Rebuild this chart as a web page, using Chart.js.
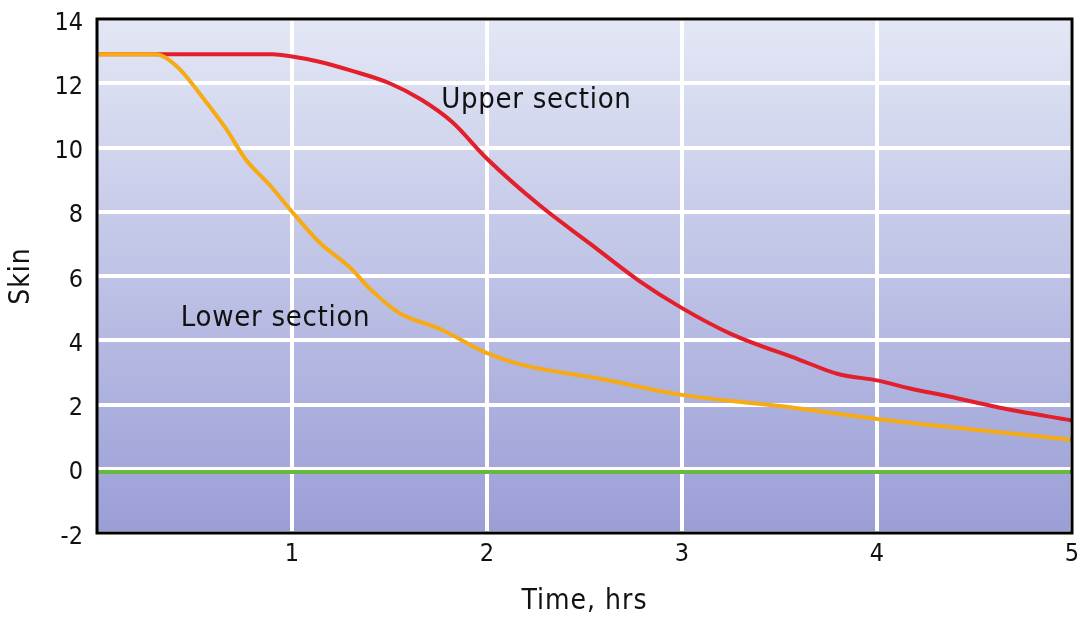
<!DOCTYPE html>
<html>
<head>
<meta charset="utf-8">
<script src="https://cdn.jsdelivr.net/npm/chart.js@4/dist/chart.umd.min.js"></script>
<style>
  html, body { margin: 0; padding: 0; background: #fff; }
  #wrap { width: 1091px; height: 623px; }
</style>
</head>
<body>
<div id="wrap"><canvas id="chart"></canvas></div>
<script>
// --- datos ---
const upperTime = [0, 0.5, 0.9, 1.0, 1.14, 1.3, 1.5, 1.66, 1.82, 2.0, 2.27, 2.53, 2.78, 3.0, 3.25, 3.6, 3.8, 4.0, 4.17, 4.37, 4.63, 5.0];
const upperSkin = [12.9, 12.9, 12.9, 12.83, 12.67, 12.4, 12.0, 11.5, 10.8, 9.65, 8.2, 7.0, 5.85, 5.0, 4.2, 3.4, 2.95, 2.75, 2.5, 2.25, 1.9, 1.5];

const lowerTime = [0, 0.3, 0.35, 0.43, 0.53, 0.66, 0.76, 0.89, 1.0, 1.14, 1.3, 1.4, 1.55, 1.76, 2.0, 2.17, 2.58, 3.0, 3.5, 4.0, 4.37, 5.0];
const lowerSkin = [12.9, 12.9, 12.8, 12.4, 11.65, 10.6, 9.65, 8.8, 8.0, 7.05, 6.25, 5.6, 4.85, 4.35, 3.6, 3.25, 2.8, 2.3, 1.95, 1.55, 1.3, 0.9];

const baseTime = [0, 5];
const baseSkin = [-0.1, -0.1];

const xTicks = [1, 2, 3, 4, 5];
const yTicks = [-2, 0, 2, 4, 6, 8, 10, 12, 14];

// etiquetas dentro del grafico: [texto, tiempo, valor]
const sectionLabels = [
  ['Upper section', 1.765, 11.45],
  ['Lower section', 0.43, 4.68]
];

const FONT = '"DejaVu Sans Condensed", "DejaVu Sans", sans-serif';

function toPoints(xs, ys) {
  return xs.map((x, i) => ({ x: x, y: ys[i] }));
}

// --- plugins pequeños: fondo degradado, marco y textos ---
const plotBackground = {
  id: 'plotBackground',
  beforeDraw(chart) {
    const { ctx, chartArea: a } = chart;
    const g = ctx.createLinearGradient(0, a.top, 0, a.bottom);
    g.addColorStop(0, '#e3e7f5');
    g.addColorStop(1, '#9a9ed6');
    ctx.save();
    ctx.fillStyle = g;
    ctx.fillRect(a.left, a.top, a.right - a.left, a.bottom - a.top);
    ctx.restore();
  }
};

const frameAndLabels = {
  id: 'frameAndLabels',
  afterDatasetsDraw(chart) {
    const { ctx, chartArea: a, scales } = chart;
    ctx.save();
    ctx.strokeStyle = '#000';
    ctx.lineWidth = 3;
    ctx.strokeRect(a.left, a.top, a.right - a.left, a.bottom - a.top);

    ctx.fillStyle = '#111';
    ctx.font = '29px ' + FONT;
    ctx.letterSpacing = '0.7px';
    ctx.textAlign = 'left';
    ctx.textBaseline = 'middle';
    sectionLabels.forEach(([txt, t, v]) => {
      ctx.fillText(txt, scales.x.getPixelForValue(t), scales.y.getPixelForValue(v));
    });
    ctx.restore();
  }
};

// los titulos de los ejes se dibujan aqui para poder espaciar las letras
const axisTitles = {
  id: 'axisTitles',
  afterDraw(chart) {
    const { ctx, chartArea: a } = chart;
    ctx.save();
    ctx.fillStyle = '#111';
    ctx.font = '28px ' + FONT;
    ctx.letterSpacing = '1px';
    ctx.textAlign = 'center';
    ctx.textBaseline = 'middle';
    ctx.fillText('Time, hrs', (a.left + a.right) / 2, 602);
    ctx.translate(22, (a.top + a.bottom) / 2);
    ctx.rotate(-Math.PI / 2);
    ctx.fillText('Skin', 0, 0);
    ctx.restore();
  }
};

const ctx = document.getElementById('chart').getContext('2d');
new Chart(ctx, {
  type: 'line',
  data: {
    datasets: [
      {
        label: 'Baseline',
        data: toPoints(baseTime, baseSkin),
        borderColor: '#66b840',
        borderWidth: 4,
        pointRadius: 0,
        tension: 0
      },
      {
        label: 'Lower section',
        data: toPoints(lowerTime, lowerSkin),
        borderColor: '#f6aa14',
        borderWidth: 4,
        pointRadius: 0,
        cubicInterpolationMode: 'monotone'
      },
      {
        label: 'Upper section',
        data: toPoints(upperTime, upperSkin),
        borderColor: '#e21f2b',
        borderWidth: 4,
        pointRadius: 0,
        cubicInterpolationMode: 'monotone'
      }
    ]
  },
  options: {
    responsive: true,
    maintainAspectRatio: false,
    animation: false,
    layout: { padding: { top: 19, right: 19, left: 0, bottom: 0 } },
    plugins: {
      legend: { display: false },
      tooltip: { enabled: false }
    },
    scales: {
      x: {
        type: 'linear',
        min: 0,
        max: 5,
        afterBuildTicks: (scale) => { scale.ticks = xTicks.map(v => ({ value: v })); },
        afterFit: (scale) => { scale.height = 90; scale.paddingRight = 0; },
        grid: { color: '#ffffff', lineWidth: 4, drawTicks: false },
        border: { display: false },
        ticks: {
          color: '#111',
          font: { family: FONT, size: 25 },
          padding: 6,
          maxRotation: 0
        }
      },
      y: {
        type: 'linear',
        min: -2,
        max: 14,
        afterBuildTicks: (scale) => { scale.ticks = yTicks.map(v => ({ value: v })); },
        afterFit: (scale) => { scale.width = 97; scale.paddingTop = 0; scale.paddingBottom = 0; },
        grid: { color: '#ffffff', lineWidth: 4, drawTicks: false },
        border: { display: false },
        ticks: {
          color: '#111',
          font: { family: FONT, size: 25 },
          padding: 14,
          labelOffset: 4
        }
      }
    }
  },
  plugins: [plotBackground, frameAndLabels, axisTitles]
});
</script>
</body>
</html>
